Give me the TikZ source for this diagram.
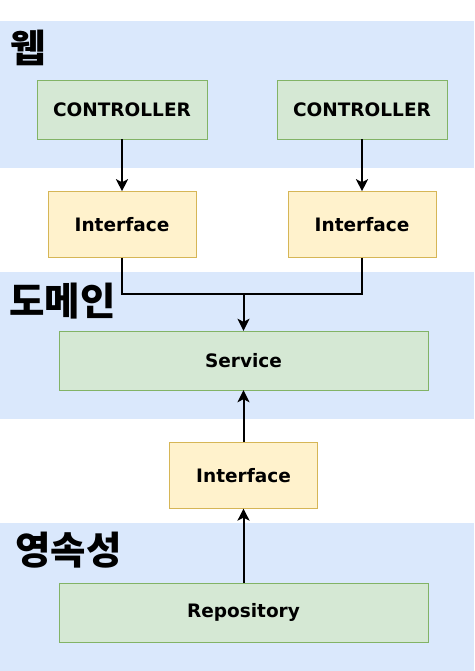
\documentclass[tikz,border=0pt]{standalone}
\usepackage{fontspec}
\setmainfont{DejaVu Sans}
\newfontfamily\korfont{Noto Sans CJK KR}
\usetikzlibrary{positioning,arrows.meta}
\definecolor{layerblue}{HTML}{DAE8FC}
\definecolor{boxgreen}{HTML}{D5E8D4}
\definecolor{edgegreen}{HTML}{82B366}
\definecolor{boxyellow}{HTML}{FFF2CC}
\definecolor{edgeyellow}{HTML}{D6B656}

\tikzset{
    greenbox/.style={rectangle, draw=edgegreen, fill=boxgreen, inner sep=0pt, font=\bfseries\fontsize{18.5}{20}\selectfont},
    yellowbox/.style={rectangle, draw=edgeyellow, fill=boxyellow, inner sep=0pt, minimum width=148pt, minimum height=66pt, font=\bfseries\fontsize{18.5}{20}\selectfont},
    layername/.style={anchor=west, inner sep=0pt, font=\korfont\bfseries\fontsize{38.5}{42}\selectfont},
    wire/.style={line width=2pt},
    flow/.style={wire, -{Stealth[length=12pt,width=12pt,inset=3pt]}}
}

\begin{document}
\begin{tikzpicture}[x=1pt, y=-1pt]
    \useasboundingbox (0,0) rectangle (474,671);

    % layers
    \fill[layerblue] (0,21) rectangle (474,168);
    \fill[layerblue] (0,272) rectangle (474,419);
    \fill[layerblue] (0,523) rectangle (474,671);

    \node[layername] (web) at (10,48) {웹};
    \node[layername] (domain) at (9,301) {도메인};
    \node[layername] (persist) at (15,550) {영속성};

    \node[greenbox, minimum width=170pt, minimum height=59pt] (ctrlA) at (122,109.5) {CONTROLLER};
    \node[greenbox, minimum width=170pt, minimum height=59pt] (ctrlB) at (362,109.5) {CONTROLLER};

    \node[yellowbox, below=52pt of ctrlA] (ifaceA) {Interface};
    \node[yellowbox, below=52pt of ctrlB] (ifaceB) {Interface};

    \node[greenbox, minimum width=369pt, minimum height=59pt] (service) at (243.5,360.5) {Service};
    \node[yellowbox, below=52pt of service] (ifaceC) {Interface};
    \node[greenbox, minimum width=369pt, minimum height=59pt, below=74pt of ifaceC] (repo) {Repository};

    \coordinate (join) at (243.5,294);

    \draw[flow] (ctrlA) -- (ifaceA);
    \draw[flow] (ctrlB) -- (ifaceB);
    \draw[wire] (ifaceA.south) |- (join);
    \draw[wire] (ifaceB.south) |- (join);
    \draw[flow] (join) -- (service.north);
    \draw[flow] (ifaceC) -- (service);
    \draw[flow] (repo) -- (ifaceC);
\end{tikzpicture}
\end{document}
